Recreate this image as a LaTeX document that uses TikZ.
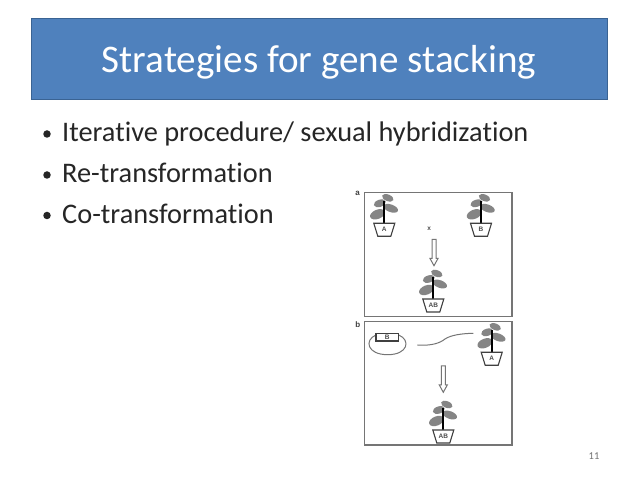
\documentclass[tikz,border=0pt]{standalone}
\usepackage{fontspec}
\setmainfont[Ligatures=NoCommon]{Carlito}
\newfontfamily\labfont{Liberation Sans}
\definecolor{titleblue}{HTML}{4F81BD}
\definecolor{titleedge}{HTML}{3A6393}
\definecolor{leafgrey}{HTML}{858585}
\definecolor{linegrey}{HTML}{757575}
\tikzset{
  x=1pt,y=-1pt,
  leaf/.style={fill=leafgrey,draw=none},
  frame/.style={draw=linegrey,line width=1.4pt},
  bullettext/.style={anchor=base west,inner sep=0pt,font=\fontsize{28.35}{33}\selectfont,text=black!85},
  bulletdot/.style={circle,fill=black!85,inner sep=0pt,minimum size=7.5pt},
  tiny/.style={font=\labfont\bfseries\fontsize{6.5}{7}\selectfont,text=black!70,inner sep=0pt},
  panel/.style={font=\labfont\bfseries\fontsize{8}{9}\selectfont,text=black!75,inner sep=0pt},
  plant/.pic={
    \fill[leaf,rotate around={-22:(3.5,-25.5)}] (3.5,-25.5) ellipse [x radius=6,y radius=3.3];
    \fill[leaf,rotate around={-20:(6.5,-15)}] (6.5,-15) ellipse [x radius=7.6,y radius=3.8];
    \fill[leaf,rotate around={18:(-4.5,-20)}] (-4.5,-20) ellipse [x radius=6.2,y radius=3.6];
    \fill[leaf,rotate around={22:(-6.8,-9)}] (-6.8,-9) ellipse [x radius=7.8,y radius=4.6];
    \draw[black,line width=2pt] (0,0) -- (0,-22);
    \draw[black!75,line width=1.1pt,fill=white] (-10.5,0) -- (10.5,0) -- (6.5,13) -- (-6.5,13) -- cycle;
  }
}
\begin{document}
\begin{tikzpicture}
\useasboundingbox (0,0) rectangle (638,478);
\fill[white] (0,0) rectangle (638,478);
\node[draw=titleedge,line width=1pt,fill=titleblue,minimum width=576pt,minimum height=81pt,inner sep=0pt] (box) at (319,59.5) {};
\node[text=white,font=\fontsize{39.1}{45}\selectfont,inner sep=0pt,anchor=base] (title) at (319,73) {Strategies for gene stacking};

\node[bulletdot] (b1) at (47,134) {};
\node[bullettext] (t1) at (62,142) {Iterative procedure/ sexual hybridization};
\node[bulletdot] (b2) at (47,175) {};
\node[bullettext] (t2) at (62,183) {Re-transformation};
\node[bulletdot] (b3) at (47,215.5) {};
\node[bullettext] (t3) at (62,223.5) {Co-transformation};

\node[panel] (la) at (357.7,193.3) {a};
\node[panel] (lb) at (357.7,324.3) {b};
\draw[frame] (364.7,192.7) rectangle (512,316.7);
\draw[frame] (364.7,321.7) rectangle (512,445);

\pic at (384.3,223.3) {plant};
\pic at (481,223.3) {plant};
\pic at (433.3,299) {plant};
\pic at (491.7,352.3) {plant};
\pic at (443.3,430) {plant};

\node[tiny] (pa1) at (384.3,229.5) {A};
\node[tiny] (pb1) at (481,229.5) {B};
\node[tiny] (pab1) at (433.3,305.2) {AB};
\node[tiny] (pa2) at (491.7,358.5) {A};
\node[tiny] (pab2) at (443.3,436.2) {AB};
\node[tiny] (cross) at (429.3,229) {x};

\draw[linegrey,line width=1pt,fill=white] (432,239.3) -- (436,239.3) -- (436,258.5) -- (438,258.5) -- (434,265.7) -- (430,258.5) -- (432,258.5) -- cycle;
\draw[linegrey,line width=1pt,fill=white] (441.3,366) -- (445.3,366) -- (445.3,385) -- (447.3,385) -- (443.3,392.3) -- (439.3,385) -- (441.3,385) -- cycle;

\draw[linegrey,line width=1pt] (376,335) .. controls (364,340) and (367,354.7) .. (387.7,354.7) .. controls (408,354.7) and (411,340) .. (398.7,335);
\draw[black!75,line width=1.1pt,fill=white] (376,333.3) rectangle (398.7,341);
\node[tiny] (vb) at (387.3,337.2) {B};
\coordinate (cs) at (417.3,345);
\coordinate (ce) at (473.3,333.3);
\draw[linegrey,line width=1pt] (cs) .. controls (432,346) and (440,343) .. (445,339) .. controls (451,335) and (462,333.5) .. (ce);

\node[text=black!55,font=\fontsize{10.5}{12}\selectfont,inner sep=0pt] (pg) at (594,456) {11};
\end{tikzpicture}
\end{document}
